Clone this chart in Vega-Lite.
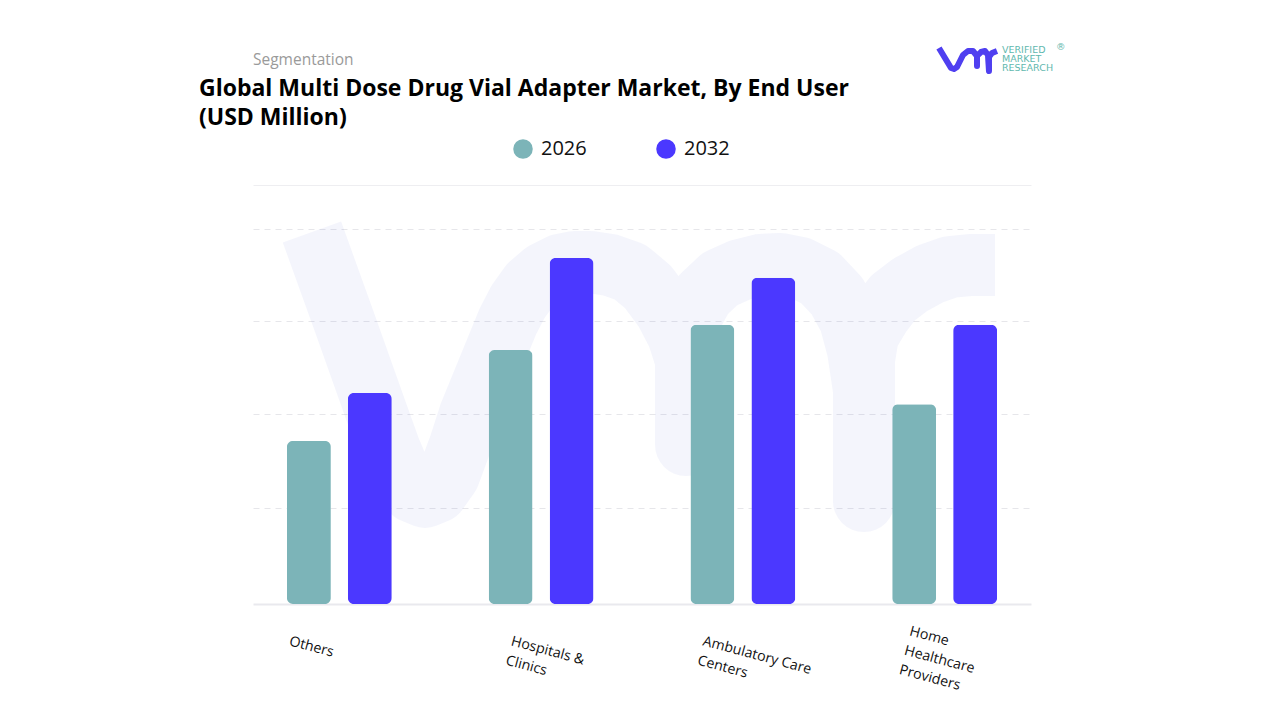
{
  "$schema": "https://vega.github.io/schema/vega-lite/v6.json",
  "width": 778,
  "height": 419,
  "autosize": {"type": "none"},
  "padding": {"left": 253, "top": 185, "right": 249, "bottom": 116},
  "background": "white",
  "title": {
    "text": ["Global Multi Dose Drug Vial Adapter Market, By End User", "(USD Million)"],
    "anchor": "start",
    "frame": "group",
    "dx": -54,
    "offset": -88,
    "font": "Open Sans",
    "fontSize": 23,
    "fontWeight": 700,
    "color": "#000000",
    "lineHeight": 29
  },
  "datasets": {
    "bars": [
      {"segment": "Others", "year": "2026", "value": 1.74},
      {"segment": "Others", "year": "2032", "value": 2.25},
      {"segment": "Hospitals & Clinics", "year": "2026", "value": 2.71},
      {"segment": "Hospitals & Clinics", "year": "2032", "value": 3.69},
      {"segment": "Ambulatory Care Centers", "year": "2026", "value": 2.98},
      {"segment": "Ambulatory Care Centers", "year": "2032", "value": 3.48},
      {"segment": "Home Healthcare Providers", "year": "2026", "value": 2.13},
      {"segment": "Home Healthcare Providers", "year": "2032", "value": 2.98}
    ],
    "watermark": [
      {"i": 1, "bx": 7.58, "by": 88.78},
      {"i": 2, "bx": 11.7, "by": 67.54},
      {"i": 3, "bx": 15.94, "by": 45.35},
      {"i": 4, "bx": 17.61, "by": 36.75},
      {"i": 5, "bx": 19.15, "by": 30.07},
      {"i": 6, "bx": 20.57, "by": 26.73},
      {"i": 7, "bx": 22.11, "by": 25.54},
      {"i": 8, "bx": 23.65, "by": 26.73},
      {"i": 9, "bx": 25.19, "by": 30.79},
      {"i": 10, "bx": 26.61, "by": 37.95},
      {"i": 11, "bx": 27.89, "by": 45.35},
      {"i": 12, "bx": 32.78, "by": 67.54},
      {"i": 13, "bx": 34.06, "by": 72.08},
      {"i": 14, "bx": 35.6, "by": 76.13},
      {"i": 15, "bx": 37.4, "by": 79.0},
      {"i": 16, "bx": 39.46, "by": 80.91},
      {"i": 17, "bx": 41.39, "by": 81.62},
      {"i": 18, "bx": 43.32, "by": 81.62},
      {"i": 19, "bx": 45.89, "by": 80.91},
      {"i": 20, "bx": 48.46, "by": 79.24},
      {"i": 21, "bx": 50.77, "by": 75.66},
      {"i": 22, "bx": 52.96, "by": 70.17},
      {"i": 23, "bx": 54.63, "by": 64.2},
      {"i": 24, "bx": 55.66, "by": 58.23},
      {"i": 25, "bx": 55.66, "by": 37.95},
      {"i": 26, "bx": 55.66, "by": 58.23},
      {"i": 27, "bx": 55.66, "by": 63.01},
      {"i": 28, "bx": 56.43, "by": 68.97},
      {"i": 29, "bx": 57.84, "by": 73.75},
      {"i": 30, "bx": 60.03, "by": 77.57},
      {"i": 31, "bx": 62.6, "by": 79.71},
      {"i": 32, "bx": 65.17, "by": 80.91},
      {"i": 33, "bx": 67.74, "by": 81.15},
      {"i": 34, "bx": 70.31, "by": 80.19},
      {"i": 35, "bx": 72.88, "by": 77.8},
      {"i": 36, "bx": 75.06, "by": 73.51},
      {"i": 37, "bx": 76.74, "by": 67.78},
      {"i": 38, "bx": 77.76, "by": 60.62},
      {"i": 39, "bx": 78.53, "by": 51.07},
      {"i": 40, "bx": 78.53, "by": 24.58},
      {"i": 41, "bx": 78.53, "by": 58.23},
      {"i": 42, "bx": 79.05, "by": 64.2},
      {"i": 43, "bx": 80.59, "by": 68.97},
      {"i": 44, "bx": 82.26, "by": 73.03},
      {"i": 45, "bx": 84.45, "by": 76.13},
      {"i": 46, "bx": 87.02, "by": 78.76},
      {"i": 47, "bx": 89.59, "by": 80.43},
      {"i": 48, "bx": 92.42, "by": 80.91},
      {"i": 49, "bx": 95.37, "by": 80.91}
    ],
    "logo": [
      {"i": 1, "bx": 88.17, "by": 132.7},
      {"i": 2, "bx": 89.72, "by": 127.92},
      {"i": 3, "bx": 90.1, "by": 127.68},
      {"i": 4, "bx": 90.49, "by": 128.16},
      {"i": 5, "bx": 91.26, "by": 131.03},
      {"i": 6, "bx": 91.9, "by": 131.98},
      {"i": 7, "bx": 92.54, "by": 131.98},
      {"i": 8, "bx": 93.06, "by": 130.79},
      {"i": 9, "bx": 93.06, "by": 128.4},
      {"i": 10, "bx": 93.06, "by": 130.79},
      {"i": 11, "bx": 93.57, "by": 131.74},
      {"i": 12, "bx": 94.09, "by": 131.98},
      {"i": 13, "bx": 94.47, "by": 131.03},
      {"i": 14, "bx": 94.6, "by": 127.21},
      {"i": 15, "bx": 94.6, "by": 130.55},
      {"i": 16, "bx": 94.99, "by": 131.5},
      {"i": 17, "bx": 95.63, "by": 131.98}
    ],
    "logoText": [
      {"label": "VERIFIED", "bx": 96.27, "by": 132.2},
      {"label": "MARKET", "bx": 96.27, "by": 130.07},
      {"label": "RESEARCH", "bx": 96.27, "by": 127.9},
      {"label": "®", "bx": 103.2, "by": 132.9}
    ]
  },
  "config": {"view": {"stroke": null}},
  "layer": [
    {
      "data": {"name": "watermark"},
      "mark": {"type": "line", "stroke": "#3f4fd0", "strokeOpacity": 0.06, "strokeWidth": 62, "strokeCap": "butt", "strokeJoin": "round", "clip": false},
      "encoding": {
        "order": {"field": "i", "type": "quantitative"},
        "x": {"field": "bx", "type": "quantitative", "axis": null, "scale": {"domain": [0, 100]}},
        "y": {"field": "by", "type": "quantitative", "axis": null, "scale": {"domain": [0, 100]}}
      }
    },
    {
      "data": {"name": "bars"},
      "mark": {"type": "bar", "cornerRadius": 6},
      "encoding": {
        "x": {
          "field": "segment",
          "type": "nominal",
          "sort": null,
          "title": null,
          "scale": {"paddingInner": 0.48, "paddingOuter": 0.168},
          "axis": {
            "domainColor": "#e9e9ee",
            "domainWidth": 2,
            "ticks": false,
            "labelAngle": 15,
            "labelAlign": "left",
            "labelBaseline": "top",
            "labelFont": "Open Sans",
            "labelFontSize": 14.2,
            "labelColor": "#111111",
            "labelLineHeight": 20,
            "labelLimit": 0,
            "labelOverlap": false,
            "labelPadding": {"condition": {"test": "datum.value === 'Home Healthcare Providers'", "value": 20}, "value": 30},
            "labelOffset": {
              "condition": [
                {"test": "datum.value === 'Others'", "value": -48},
                {"test": "datum.value === 'Hospitals & Clinics'", "value": -28},
                {"test": "datum.value === 'Ambulatory Care Centers'", "value": -38}
              ],
              "value": -33
            },
            "labelExpr": "datum.value === 'Hospitals & Clinics' ? ['Hospitals &', 'Clinics'] : datum.value === 'Ambulatory Care Centers' ? ['Ambulatory Care', 'Centers'] : datum.value === 'Home Healthcare Providers' ? ['Home', 'Healthcare', 'Providers'] : datum.value"
          }
        },
        "xOffset": {"field": "year", "type": "nominal", "scale": {"paddingInner": 0.279}},
        "y": {
          "field": "value",
          "type": "quantitative",
          "title": null,
          "scale": {"domain": [0, 4.47], "nice": false},
          "axis": {
            "values": [1.02, 2.03, 3.02, 4, 4.47],
            "labels": false,
            "ticks": false,
            "domain": false,
            "grid": true,
            "gridColor": {"condition": {"test": "datum.value > 4.4", "value": "#eeeef1"}, "value": "#e6e6ea"},
            "gridDash": {"condition": {"test": "datum.value > 4.4", "value": []}, "value": [6, 5]}
          }
        },
        "color": {
          "field": "year",
          "type": "nominal",
          "title": null,
          "scale": {"domain": ["2026", "2032"], "range": ["#7cb4b8", "#4b38ff"]},
          "legend": {
            "orient": "none",
            "legendX": 260,
            "legendY": -46,
            "direction": "horizontal",
            "symbolType": "circle",
            "symbolSize": 380,
            "symbolStrokeWidth": 0,
            "labelFont": "Open Sans",
            "labelFontSize": 20,
            "labelColor": "#111111",
            "labelOffset": 8,
            "columnPadding": 69
          }
        }
      }
    },
    {
      "data": {"name": "logo"},
      "mark": {"type": "line", "stroke": "#4f3ff0", "strokeWidth": 6, "strokeCap": "butt", "strokeJoin": "round", "clip": false},
      "encoding": {
        "order": {"field": "i", "type": "quantitative"},
        "x": {"field": "bx", "type": "quantitative", "axis": null, "scale": {"domain": [0, 100]}},
        "y": {"field": "by", "type": "quantitative", "axis": null, "scale": {"domain": [0, 100]}}
      }
    },
    {
      "data": {"name": "logoText"},
      "mark": {"type": "text", "align": "left", "baseline": "middle", "font": "DejaVu Sans", "fontSize": 9.5, "color": "#5fb8ae", "clip": false},
      "encoding": {
        "text": {"field": "label"},
        "x": {"field": "bx", "type": "quantitative", "axis": null, "scale": {"domain": [0, 100]}},
        "y": {"field": "by", "type": "quantitative", "axis": null, "scale": {"domain": [0, 100]}}
      }
    },
    {
      "data": {"values": [{"label": "Segmentation", "bx": 0, "by": 129.83}]},
      "mark": {"type": "text", "align": "left", "baseline": "middle", "font": "Open Sans", "fontSize": 15.5, "color": "#9a9a9a", "clip": false},
      "encoding": {
        "text": {"field": "label"},
        "x": {"field": "bx", "type": "quantitative", "axis": null, "scale": {"domain": [0, 100]}},
        "y": {"field": "by", "type": "quantitative", "axis": null, "scale": {"domain": [0, 100]}}
      }
    }
  ],
  "resolve": {"scale": {"x": "independent", "y": "independent"}, "axis": {"x": "independent", "y": "independent"}}
}
